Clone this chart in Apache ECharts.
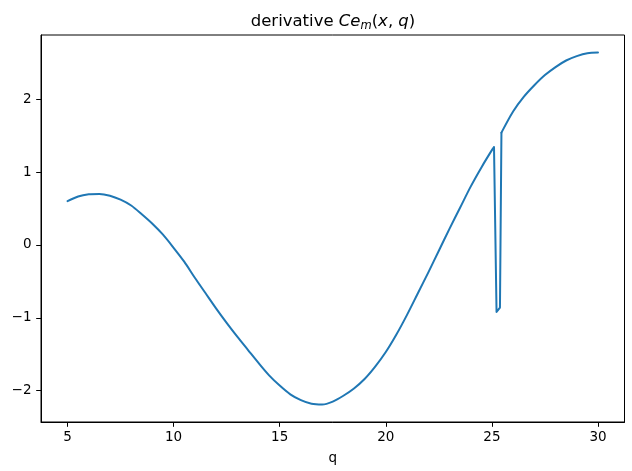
<!DOCTYPE html>
<html>
<head>
<meta charset="utf-8">
<script src="https://cdn.jsdelivr.net/npm/echarts@6/dist/echarts.min.js"></script>
<style>
html,body{margin:0;padding:0;background:#fff;}
#chart{width:632px;height:471px;}
</style>
</head>
<body>
<div id="chart"></div>
<script>
// q values and the derivative
var qValues = [5.0, 5.5, 6.0, 6.5, 7.0, 7.5, 8.0, 8.5, 9.0, 9.5,
  10.0, 10.5, 11.0, 11.5, 12.0, 12.5, 13.0, 13.5, 14.0, 14.5,
  15.0, 15.5, 16.0, 16.5, 17.0, 17.5, 18.0, 18.5, 19.0, 19.5,
  20.0, 20.5, 21.0, 21.5, 22.0, 22.5, 23.0, 23.5, 24.0, 24.5,
  25.0, 25.1, 25.22, 25.38, 25.45, 26.0, 26.5, 27.0, 27.5, 28.0,
  28.5, 29.0, 29.5, 30.0];
var derivValues = [0.60, 0.665, 0.695, 0.70, 0.675, 0.62, 0.54, 0.42, 0.29, 0.14,
  -0.04, -0.23, -0.45, -0.66, -0.87, -1.07, -1.26, -1.44, -1.62, -1.79,
  -1.93, -2.05, -2.13, -2.18, -2.19, -2.15, -2.07, -1.97, -1.84, -1.67,
  -1.47, -1.23, -0.96, -0.67, -0.38, -0.08, 0.22, 0.51, 0.80, 1.06,
  1.30, 1.34, -0.92, -0.86, 1.54, 1.83, 2.03, 2.19, 2.33, 2.44,
  2.53, 2.59, 2.63, 2.64];
var xTicks = [5, 10, 15, 20, 25, 30];
var yTicks = [-2, -1, 0, 1, 2];

// the jump near q = 25 is drawn with straight segments, the rest smoothed
var jumpStart = 41, jumpEnd = 44;

var chart = echarts.init(document.getElementById('chart'));

var pairs = function (from, to) {
  var out = [];
  for (var i = from; i <= to; i++) {
    out.push([qValues[i], derivValues[i]]);
  }
  return out;
};

var font = 'DejaVu Sans';
var blue = '#1f77b4';

var lineSeries = function (data, smooth) {
  return {
    type: 'line',
    data: data,
    showSymbol: false,
    smooth: smooth,
    lineStyle: {color: blue, width: 2, join: 'round', cap: 'round'},
    itemStyle: {color: blue}
  };
};

var option = {
  animation: false,
  backgroundColor: '#fff',
  textStyle: {fontFamily: font},
  graphic: [{
    type: 'text',
    x: 333,
    y: 22,
    style: {
      text: '{n|derivative }{i|Ce}{s|m}{n|(}{i|x}{n|, }{i|q}{n|)}',
      align: 'center',
      verticalAlign: 'middle',
      rich: {
        n: {fontFamily: font, fontSize: 16.5, fill: '#000'},
        i: {fontFamily: font, fontSize: 16.5, fontStyle: 'italic', fill: '#000'},
        s: {fontFamily: font, fontSize: 11.5, fontStyle: 'italic', fill: '#000', padding: [8, 0, 0, 0]}
      }
    }
  }],
  grid: {
    left: 41, right: 7.5, top: 35, bottom: 49,
    show: true, borderColor: '#000', borderWidth: 1,
    backgroundColor: 'transparent'
  },
  xAxis: {
    type: 'value',
    min: 3.75, max: 31.25,
    name: 'q',
    nameLocation: 'middle',
    nameGap: 29,
    nameTextStyle: {fontFamily: font, fontSize: 13.5, color: '#000'},
    axisLine: {show: true, onZero: false, lineStyle: {color: '#000', width: 1}},
    axisTick: {show: true, length: 4.8, lineStyle: {color: '#000'}, customValues: xTicks},
    axisLabel: {fontFamily: font, fontSize: 13.5, color: '#000', margin: 8, customValues: xTicks},
    splitLine: {show: false}
  },
  yAxis: {
    type: 'value',
    min: -2.43, max: 2.88,
    axisLine: {show: true, onZero: false, lineStyle: {color: '#000', width: 1}},
    axisTick: {show: true, length: 4.8, lineStyle: {color: '#000'}, customValues: yTicks},
    axisLabel: {fontFamily: font, fontSize: 13.5, color: '#000', margin: 9.5,
      customValues: yTicks,
      formatter: function (v) { return v < 0 ? '\u2212' + Math.abs(v) : String(v); }},
    splitLine: {show: false}
  },
  series: [
    lineSeries(pairs(0, jumpStart), 0.3),
    lineSeries(pairs(jumpStart, jumpEnd), false),
    lineSeries(pairs(jumpEnd, qValues.length - 1), 0.3)
  ]
};

chart.setOption(option);
</script>
</body>
</html>
